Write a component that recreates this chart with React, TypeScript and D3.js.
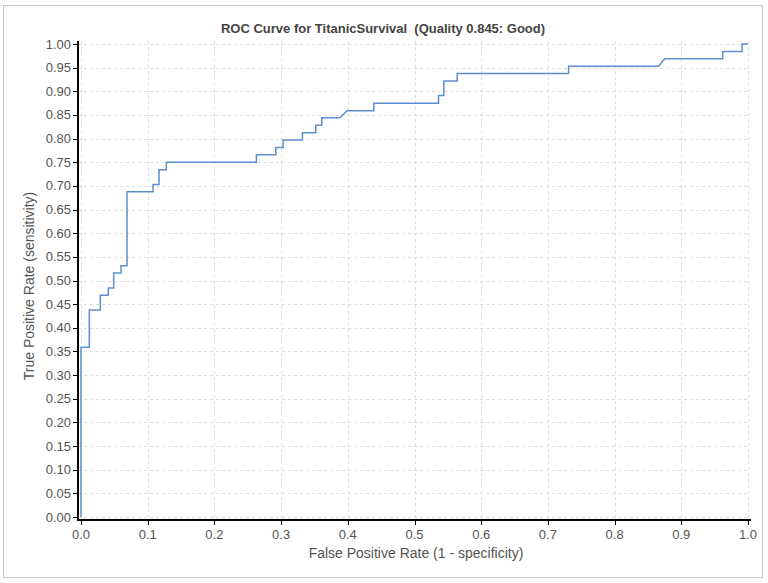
import React from 'react';
import * as d3 from 'd3';

// ROC points (false positive rate, true positive rate)
const fpr = [0, 0, 0.0125, 0.0125, 0.029, 0.029, 0.041, 0.041, 0.049, 0.049, 0.06, 0.06, 0.069, 0.069,
  0.108, 0.108, 0.117, 0.117, 0.128, 0.128, 0.263, 0.263, 0.292, 0.292, 0.303, 0.303, 0.332, 0.332,
  0.352, 0.352, 0.361, 0.361, 0.388, 0.399, 0.439, 0.439, 0.536, 0.536, 0.544, 0.544, 0.564, 0.564,
  0.731, 0.731, 0.866, 0.875, 0.962, 0.962, 0.991, 0.991, 1];
const tpr = [0, 0.359, 0.359, 0.4375, 0.4375, 0.469, 0.469, 0.484, 0.484, 0.516, 0.516, 0.531, 0.531, 0.6875,
  0.6875, 0.703, 0.703, 0.734, 0.734, 0.75, 0.75, 0.766, 0.766, 0.781, 0.781, 0.797, 0.797, 0.8125,
  0.8125, 0.828, 0.828, 0.844, 0.844, 0.859, 0.859, 0.875, 0.875, 0.891, 0.891, 0.922, 0.922, 0.9375,
  0.9375, 0.953, 0.953, 0.969, 0.969, 0.984, 0.984, 1, 1];

const xTicks = d3.range(0, 11).map(i => i / 10);
const yTicks = d3.range(0, 21).map(i => i / 20);

const title = 'ROC Curve for TitanicSurvival  (Quality 0.845: Good)';
const xLabel = 'False Positive Rate (1 - specificity)';
const yLabel = 'True Positive Rate (sensitivity)';

export default function App() {
  const width = 768;
  const height = 583;
  const left = 78, right = 750, top = 41, bottom = 520;

  const x = d3.scaleLinear().domain([0, 1]).range([81, 748]);
  const y = d3.scaleLinear().domain([0, 1]).range([517, 44]);

  const line = d3.line<number>()
    .x((d, i) => x(fpr[i]))
    .y((d, i) => y(tpr[i]));

  const font = '"Liberation Sans", Arial, sans-serif';

  return (
    <svg width={width} height={height} style={{ position: 'absolute', left: 0, top: 0 }} fontFamily={font}>
      <rect x={3.5} y={5.5} width={759} height={572} fill="#fff" stroke="#c8c8c8" />
      <text x={383} y={33} textAnchor="middle" fontSize={13} fontWeight="bold" fill="#444"
        style={{ whiteSpace: 'pre' }}>{title}</text>

      {/* grid */}
      <g stroke="#dcdcdc" strokeDasharray="3,3" strokeWidth={1}>
        {xTicks.map(t => (
          <line key={'gx' + t} x1={Math.round(x(t)) + 0.5} x2={Math.round(x(t)) + 0.5} y1={top} y2={bottom} />
        ))}
        {yTicks.map(t => (
          <line key={'gy' + t} x1={left} x2={right} y1={Math.round(y(t)) + 0.5} y2={Math.round(y(t)) + 0.5} />
        ))}
      </g>

      {/* curve */}
      <path d={line(fpr) || ''} fill="none" stroke="#5b8fd0" strokeWidth={1.5} />

      {/* axes */}
      <line x1={left} x2={left} y1={top} y2={bottom + 1} stroke="#000" strokeWidth={2} />
      <line x1={left - 1} x2={right + 1} y1={bottom} y2={bottom} stroke="#000" strokeWidth={2} />

      {yTicks.map(t => (
        <g key={'ty' + t}>
          <line x1={left - 5} x2={left} y1={Math.round(y(t)) + 0.5} y2={Math.round(y(t)) + 0.5} stroke="#000" />
          <text x={left - 7} y={y(t) + 4.5} textAnchor="end" fontSize={13} fill="#555">{t.toFixed(2)}</text>
        </g>
      ))}
      {xTicks.map(t => (
        <g key={'tx' + t}>
          <line x1={Math.round(x(t)) + 0.5} x2={Math.round(x(t)) + 0.5} y1={bottom} y2={bottom + 5} stroke="#000" />
          <text x={x(t)} y={538.5} textAnchor="middle" fontSize={13} fill="#555">{t.toFixed(1)}</text>
        </g>
      ))}

      <text x={416} y={558} textAnchor="middle" fontSize={14} fill="#555">{xLabel}</text>
      <text transform={`translate(34,${286}) rotate(-90)`} textAnchor="middle" fontSize={14} fill="#555">{yLabel}</text>
    </svg>
  );
}
